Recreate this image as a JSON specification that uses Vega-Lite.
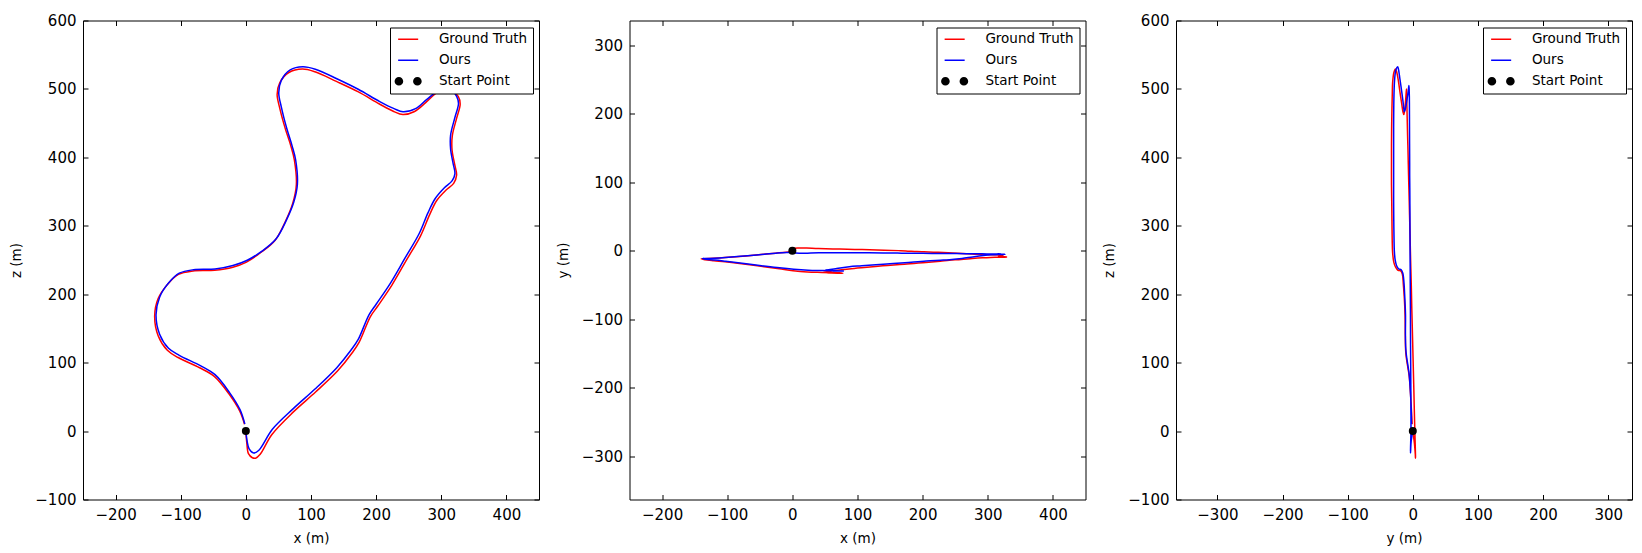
{
  "$schema": "https://vega.github.io/schema/vega-lite/v6.json",
  "padding": {"left": 9, "top": 12.5, "right": 8, "bottom": 4},
  "config": {
    "font": "DejaVu Sans",
    "view": {"stroke": "black", "strokeWidth": 1},
    "axis": {"labelFont": "DejaVu Sans", "labelFontSize": 15, "labelColor": "black", "titleFont": "DejaVu Sans", "titleFontSize": 13.5, "titleFontWeight": "normal", "titleColor": "black", "tickColor": "black", "tickWidth": 1, "domain": false, "grid": false, "labelFlush": false, "labelOverlap": false},
    "legend": {"labelFont": "DejaVu Sans", "labelFontSize": 13.5, "labelColor": "black", "title": null, "orient": "top-right", "offset": 6.5, "padding": 5, "rowPadding": 6, "symbolSize": 144, "symbolOffset": 6.4, "labelOffset": 24, "strokeColor": "black", "fillColor": "white", "cornerRadius": 0}
  },
  "data": {"values": [
    {"s":"Start Point","i":0,"x":0,"y":0,"z":0},
    {"s":"Ground Truth","i":1,"x":0,"y":0,"z":0},
    {"s":"Ground Truth","i":2,"x":1.5,"y":2.5,"z":-18},
    {"s":"Ground Truth","i":3,"x":4,"y":3.8,"z":-33},
    {"s":"Ground Truth","i":4,"x":10,"y":4.1,"z":-39},
    {"s":"Ground Truth","i":5,"x":15,"y":4.2,"z":-39.6},
    {"s":"Ground Truth","i":6,"x":22,"y":4.1,"z":-34},
    {"s":"Ground Truth","i":7,"x":40,"y":3.3,"z":-5},
    {"s":"Ground Truth","i":8,"x":73,"y":2.4,"z":28},
    {"s":"Ground Truth","i":9,"x":107,"y":1.7,"z":57},
    {"s":"Ground Truth","i":10,"x":141,"y":0.9,"z":88},
    {"s":"Ground Truth","i":11,"x":163,"y":0.2,"z":114},
    {"s":"Ground Truth","i":12,"x":174,"y":-0.2,"z":130},
    {"s":"Ground Truth","i":13,"x":191,"y":-1.2,"z":167},
    {"s":"Ground Truth","i":14,"x":202,"y":-1.6,"z":182},
    {"s":"Ground Truth","i":15,"x":224,"y":-2.3,"z":213},
    {"s":"Ground Truth","i":16,"x":246,"y":-3.3,"z":249},
    {"s":"Ground Truth","i":17,"x":268,"y":-4.2,"z":285},
    {"s":"Ground Truth","i":18,"x":282,"y":-5,"z":316},
    {"s":"Ground Truth","i":19,"x":293,"y":-5.5,"z":337},
    {"s":"Ground Truth","i":20,"x":307,"y":-5.9,"z":352},
    {"s":"Ground Truth","i":21,"x":319,"y":-6.2,"z":362},
    {"s":"Ground Truth","i":22,"x":323.5,"y":-6.5,"z":374},
    {"s":"Ground Truth","i":23,"x":320.5,"y":-6.9,"z":390},
    {"s":"Ground Truth","i":24,"x":316.5,"y":-7.4,"z":411},
    {"s":"Ground Truth","i":25,"x":317,"y":-8,"z":432},
    {"s":"Ground Truth","i":26,"x":323.5,"y":-8.6,"z":457},
    {"s":"Ground Truth","i":27,"x":329,"y":-9.1,"z":478},
    {"s":"Ground Truth","i":28,"x":326,"y":-9.4,"z":489},
    {"s":"Ground Truth","i":29,"x":316,"y":-9.6,"z":497},
    {"s":"Ground Truth","i":30,"x":304,"y":-9.7,"z":500},
    {"s":"Ground Truth","i":31,"x":292,"y":-10.2,"z":494},
    {"s":"Ground Truth","i":32,"x":276,"y":-11.3,"z":480},
    {"s":"Ground Truth","i":33,"x":259,"y":-12.8,"z":467},
    {"s":"Ground Truth","i":34,"x":241,"y":-13.8,"z":462.5},
    {"s":"Ground Truth","i":35,"x":227,"y":-15.2,"z":467},
    {"s":"Ground Truth","i":36,"x":205,"y":-17,"z":478},
    {"s":"Ground Truth","i":37,"x":172,"y":-19.8,"z":496},
    {"s":"Ground Truth","i":38,"x":139,"y":-22,"z":511},
    {"s":"Ground Truth","i":39,"x":106,"y":-24.8,"z":525},
    {"s":"Ground Truth","i":40,"x":87,"y":-26.6,"z":529},
    {"s":"Ground Truth","i":41,"x":66,"y":-29,"z":524},
    {"s":"Ground Truth","i":42,"x":52,"y":-31,"z":509},
    {"s":"Ground Truth","i":43,"x":48,"y":-31.5,"z":492},
    {"s":"Ground Truth","i":44,"x":52,"y":-32,"z":472},
    {"s":"Ground Truth","i":45,"x":60.5,"y":-32.5,"z":442},
    {"s":"Ground Truth","i":46,"x":69,"y":-32.7,"z":417},
    {"s":"Ground Truth","i":47,"x":74.5,"y":-32.7,"z":396},
    {"s":"Ground Truth","i":48,"x":77.5,"y":-32.7,"z":360},
    {"s":"Ground Truth","i":49,"x":72,"y":-32.3,"z":333},
    {"s":"Ground Truth","i":50,"x":61,"y":-32,"z":307},
    {"s":"Ground Truth","i":51,"x":45,"y":-31.6,"z":279},
    {"s":"Ground Truth","i":52,"x":23,"y":-31,"z":261},
    {"s":"Ground Truth","i":53,"x":1,"y":-29.2,"z":247},
    {"s":"Ground Truth","i":54,"x":-20,"y":-26.4,"z":239.5},
    {"s":"Ground Truth","i":55,"x":-48,"y":-22.7,"z":235},
    {"s":"Ground Truth","i":56,"x":-81,"y":-18.5,"z":234},
    {"s":"Ground Truth","i":57,"x":-103.5,"y":-16,"z":229},
    {"s":"Ground Truth","i":58,"x":-120.5,"y":-14.5,"z":214},
    {"s":"Ground Truth","i":59,"x":-134.5,"y":-13,"z":194},
    {"s":"Ground Truth","i":60,"x":-140,"y":-11.8,"z":168},
    {"s":"Ground Truth","i":61,"x":-134.5,"y":-11.5,"z":139},
    {"s":"Ground Truth","i":62,"x":-120.5,"y":-11,"z":118},
    {"s":"Ground Truth","i":63,"x":-104,"y":-10,"z":107.5},
    {"s":"Ground Truth","i":64,"x":-71,"y":-7.5,"z":92.5},
    {"s":"Ground Truth","i":65,"x":-48.5,"y":-5.5,"z":80},
    {"s":"Ground Truth","i":66,"x":-26,"y":-3.5,"z":54.5},
    {"s":"Ground Truth","i":67,"x":-9.5,"y":-2,"z":29.5},
    {"s":"Ground Truth","i":68,"x":-2,"y":-1,"z":10},
    {"s":"Ours","i":1,"x":0,"y":0,"z":0},
    {"s":"Ours","i":2,"x":2,"y":-2.5,"z":-15},
    {"s":"Ours","i":3,"x":5,"y":-3.2,"z":-26},
    {"s":"Ours","i":4,"x":12,"y":-3.5,"z":-32},
    {"s":"Ours","i":5,"x":20,"y":-3.5,"z":-28},
    {"s":"Ours","i":6,"x":40.7,"y":-2.8,"z":2.6},
    {"s":"Ours","i":7,"x":73.6,"y":-2.9,"z":33.5},
    {"s":"Ours","i":8,"x":106.6,"y":-3,"z":61.8},
    {"s":"Ours","i":9,"x":139.6,"y":-3.2,"z":92.7},
    {"s":"Ours","i":10,"x":161.5,"y":-3.4,"z":118.4},
    {"s":"Ours","i":11,"x":172.5,"y":-3.5,"z":133.9},
    {"s":"Ours","i":12,"x":189,"y":-3.6,"z":169.9},
    {"s":"Ours","i":13,"x":200,"y":-3.7,"z":185.4},
    {"s":"Ours","i":14,"x":222,"y":-3.9,"z":216.3},
    {"s":"Ours","i":15,"x":244,"y":-4.1,"z":252.3},
    {"s":"Ours","i":16,"x":265.9,"y":-4.3,"z":288.4},
    {"s":"Ours","i":17,"x":279.7,"y":-4.4,"z":319.3},
    {"s":"Ours","i":18,"x":290.7,"y":-4.5,"z":339.9},
    {"s":"Ours","i":19,"x":304.4,"y":-4.6,"z":355.3},
    {"s":"Ours","i":20,"x":316.5,"y":-4.7,"z":365.6},
    {"s":"Ours","i":21,"x":320.9,"y":-4.8,"z":375.9},
    {"s":"Ours","i":22,"x":318.1,"y":-4.8,"z":391.3},
    {"s":"Ours","i":23,"x":314.3,"y":-4.9,"z":411.9},
    {"s":"Ours","i":24,"x":314.3,"y":-5,"z":432.5},
    {"s":"Ours","i":25,"x":320.9,"y":-5.1,"z":458.3},
    {"s":"Ours","i":26,"x":326.4,"y":-5.2,"z":478.9},
    {"s":"Ours","i":27,"x":323.6,"y":-5.3,"z":489.2},
    {"s":"Ours","i":28,"x":315,"y":-5.6,"z":499},
    {"s":"Ours","i":29,"x":305,"y":-6,"z":505},
    {"s":"Ours","i":30,"x":293.4,"y":-7,"z":496.9},
    {"s":"Ours","i":31,"x":276.9,"y":-9,"z":484},
    {"s":"Ours","i":32,"x":260.4,"y":-11.3,"z":471.2},
    {"s":"Ours","i":33,"x":241.2,"y":-13,"z":466.5},
    {"s":"Ours","i":34,"x":227.5,"y":-13.8,"z":471.2},
    {"s":"Ours","i":35,"x":205.5,"y":-15,"z":481.5},
    {"s":"Ours","i":36,"x":172.5,"y":-17.5,"z":499.5},
    {"s":"Ours","i":37,"x":139.6,"y":-19.8,"z":514.9},
    {"s":"Ours","i":38,"x":106.6,"y":-22,"z":528.8},
    {"s":"Ours","i":39,"x":87.4,"y":-23.3,"z":532.4},
    {"s":"Ours","i":40,"x":68.1,"y":-26,"z":527.8},
    {"s":"Ours","i":41,"x":54.4,"y":-28,"z":512.4},
    {"s":"Ours","i":42,"x":50.5,"y":-28.8,"z":494.3},
    {"s":"Ours","i":43,"x":54.4,"y":-29.2,"z":473.7},
    {"s":"Ours","i":44,"x":62.6,"y":-29.4,"z":442.8},
    {"s":"Ours","i":45,"x":70.9,"y":-29.4,"z":417.1},
    {"s":"Ours","i":46,"x":76.4,"y":-29.4,"z":396.5},
    {"s":"Ours","i":47,"x":79.1,"y":-29.4,"z":360.5},
    {"s":"Ours","i":48,"x":73.6,"y":-29.4,"z":334.7},
    {"s":"Ours","i":49,"x":62.6,"y":-29.2,"z":309},
    {"s":"Ours","i":50,"x":46.2,"y":-28.8,"z":280.6},
    {"s":"Ours","i":51,"x":24.2,"y":-28.3,"z":262.6},
    {"s":"Ours","i":52,"x":2.2,"y":-27,"z":249.7},
    {"s":"Ours","i":53,"x":-19.8,"y":-25,"z":242},
    {"s":"Ours","i":54,"x":-47.3,"y":-21.8,"z":236.9},
    {"s":"Ours","i":55,"x":-80.2,"y":-17.8,"z":235.8},
    {"s":"Ours","i":56,"x":-102.2,"y":-15.3,"z":230.7},
    {"s":"Ours","i":57,"x":-118.7,"y":-13.5,"z":216.3},
    {"s":"Ours","i":58,"x":-132.4,"y":-12.3,"z":195.7},
    {"s":"Ours","i":59,"x":-137.9,"y":-11.2,"z":169.9},
    {"s":"Ours","i":60,"x":-132.4,"y":-11.3,"z":141.6},
    {"s":"Ours","i":61,"x":-118.7,"y":-10.8,"z":121},
    {"s":"Ours","i":62,"x":-102.2,"y":-9.8,"z":110.7},
    {"s":"Ours","i":63,"x":-69.2,"y":-7.4,"z":95.3},
    {"s":"Ours","i":64,"x":-47.3,"y":-5.5,"z":82.4},
    {"s":"Ours","i":65,"x":-25.3,"y":-3.6,"z":56.6},
    {"s":"Ours","i":66,"x":-8.8,"y":-2.4,"z":30.9},
    {"s":"Ours","i":67,"x":-1.6,"y":-2,"z":10.3}
  ]},
  "spacing": 90.5,
  "bounds": "flush",
  "resolve": {"scale": {"color": "independent"}, "legend": {"color": "independent"}},
  "hconcat": [
    {
      "width": 456, "height": 479,
      "resolve": {"axis": {"x": "independent", "y": "independent"}},
      "layer": [
        {
          "transform": [{"filter": "datum.s === 'Ground Truth'"}],
          "mark": {"type": "line", "strokeWidth": 1.5, "clip": true, "interpolate": "catmull-rom"},
          "encoding": {
            "x": {"field": "x", "type": "quantitative", "scale": {"domain": [-250, 450], "nice": false, "zero": false}, "axis": {"orient": "bottom", "values": [-200,-100,0,100,200,300,400], "ticks": false, "tickSize": 0, "labelPadding": 8, "title": "x (m)", "titlePadding": 9}},
            "y": {"field": "z", "type": "quantitative", "scale": {"domain": [-100, 600], "nice": false, "zero": false}, "axis": {"orient": "left", "values": [-100,0,100,200,300,400,500,600], "ticks": false, "tickSize": 0, "labelPadding": 7, "title": "z (m)", "titlePadding": 11}},
            "order": {"field": "i", "type": "quantitative"},
            "color": {"field": "s", "type": "nominal", "scale": {"domain": ["Ground Truth", "Ours", "Start Point"], "range": ["#ff0000", "#0000ff", "#000000"]}, "legend": {"encode": {"symbols": {"update": {"shape": {"signal": "datum.value === 'Start Point' ? 'M -2.26 0 A 0.72 0.72 0 1 0 -0.82 0 A 0.72 0.72 0 1 0 -2.26 0 Z M 0.82 0 A 0.72 0.72 0 1 0 2.26 0 A 0.72 0.72 0 1 0 0.82 0 Z' : 'M -1.67 0 L 1.67 0'"}, "fill": {"signal": "datum.value === 'Start Point' ? 'black' : 'transparent'"}, "stroke": {"signal": "datum.value === 'Ground Truth' ? '#ff0000' : datum.value === 'Ours' ? '#0000ff' : 'black'"}, "strokeWidth": {"signal": "datum.value === 'Start Point' ? 0 : 1.5"}, "opacity": {"value": 1}}}}}}
          }
        },
        {
          "transform": [{"filter": "datum.s === 'Ours'"}],
          "mark": {"type": "line", "strokeWidth": 1.5, "clip": true, "interpolate": "catmull-rom"},
          "encoding": {
            "x": {"field": "x", "type": "quantitative", "scale": {"domain": [-250, 450], "nice": false, "zero": false}, "axis": {"orient": "bottom", "values": [-200,-100,0,100,200,300,400], "offset": -5, "tickSize": 5, "labels": false, "title": null}},
            "y": {"field": "z", "type": "quantitative", "scale": {"domain": [-100, 600], "nice": false, "zero": false}, "axis": {"orient": "left", "values": [-100,0,100,200,300,400,500,600], "offset": -5, "tickSize": 5, "labels": false, "title": null}},
            "order": {"field": "i", "type": "quantitative"},
            "color": {"field": "s", "type": "nominal", "scale": {"domain": ["Ground Truth", "Ours", "Start Point"], "range": ["#ff0000", "#0000ff", "#000000"]}, "legend": null}
          }
        },
        {
          "transform": [{"filter": "datum.s === 'Start Point'"}],
          "mark": {"type": "point", "filled": true, "size": 64, "opacity": 1},
          "encoding": {
            "x": {"field": "x", "type": "quantitative", "scale": {"domain": [-250, 450], "nice": false, "zero": false}, "axis": {"orient": "top", "values": [-200,-100,0,100,200,300,400], "offset": -5, "tickSize": 5, "labels": false, "title": null}},
            "y": {"field": "z", "type": "quantitative", "scale": {"domain": [-100, 600], "nice": false, "zero": false}, "axis": {"orient": "right", "values": [-100,0,100,200,300,400,500,600], "offset": -5, "tickSize": 5, "labels": false, "title": null}},
            "color": {"field": "s", "type": "nominal", "scale": {"domain": ["Ground Truth", "Ours", "Start Point"], "range": ["#ff0000", "#0000ff", "#000000"]}, "legend": null}
          }
        }
      ]
    },
    {
      "width": 456, "height": 479,
      "resolve": {"axis": {"x": "independent", "y": "independent"}},
      "layer": [
        {
          "transform": [{"filter": "datum.s === 'Ground Truth'"}],
          "mark": {"type": "line", "strokeWidth": 1.5, "clip": true, "interpolate": "catmull-rom"},
          "encoding": {
            "x": {"field": "x", "type": "quantitative", "scale": {"domain": [-250, 450], "nice": false, "zero": false}, "axis": {"orient": "bottom", "values": [-200,-100,0,100,200,300,400], "ticks": false, "tickSize": 0, "labelPadding": 8, "title": "x (m)", "titlePadding": 9}},
            "y": {"field": "y", "type": "quantitative", "scale": {"domain": [-363.5, 336.5], "nice": false, "zero": false}, "axis": {"orient": "left", "values": [-300,-200,-100,0,100,200,300], "ticks": false, "tickSize": 0, "labelPadding": 7, "title": "y (m)", "titlePadding": 11}},
            "order": {"field": "i", "type": "quantitative"},
            "color": {"field": "s", "type": "nominal", "scale": {"domain": ["Ground Truth", "Ours", "Start Point"], "range": ["#ff0000", "#0000ff", "#000000"]}, "legend": {"encode": {"symbols": {"update": {"shape": {"signal": "datum.value === 'Start Point' ? 'M -2.26 0 A 0.72 0.72 0 1 0 -0.82 0 A 0.72 0.72 0 1 0 -2.26 0 Z M 0.82 0 A 0.72 0.72 0 1 0 2.26 0 A 0.72 0.72 0 1 0 0.82 0 Z' : 'M -1.67 0 L 1.67 0'"}, "fill": {"signal": "datum.value === 'Start Point' ? 'black' : 'transparent'"}, "stroke": {"signal": "datum.value === 'Ground Truth' ? '#ff0000' : datum.value === 'Ours' ? '#0000ff' : 'black'"}, "strokeWidth": {"signal": "datum.value === 'Start Point' ? 0 : 1.5"}, "opacity": {"value": 1}}}}}}
          }
        },
        {
          "transform": [{"filter": "datum.s === 'Ours'"}],
          "mark": {"type": "line", "strokeWidth": 1.5, "clip": true, "interpolate": "catmull-rom"},
          "encoding": {
            "x": {"field": "x", "type": "quantitative", "scale": {"domain": [-250, 450], "nice": false, "zero": false}, "axis": {"orient": "bottom", "values": [-200,-100,0,100,200,300,400], "offset": -5, "tickSize": 5, "labels": false, "title": null}},
            "y": {"field": "y", "type": "quantitative", "scale": {"domain": [-363.5, 336.5], "nice": false, "zero": false}, "axis": {"orient": "left", "values": [-300,-200,-100,0,100,200,300], "offset": -5, "tickSize": 5, "labels": false, "title": null}},
            "order": {"field": "i", "type": "quantitative"},
            "color": {"field": "s", "type": "nominal", "scale": {"domain": ["Ground Truth", "Ours", "Start Point"], "range": ["#ff0000", "#0000ff", "#000000"]}, "legend": null}
          }
        },
        {
          "transform": [{"filter": "datum.s === 'Start Point'"}],
          "mark": {"type": "point", "filled": true, "size": 64, "opacity": 1},
          "encoding": {
            "x": {"field": "x", "type": "quantitative", "scale": {"domain": [-250, 450], "nice": false, "zero": false}, "axis": {"orient": "top", "values": [-200,-100,0,100,200,300,400], "offset": -5, "tickSize": 5, "labels": false, "title": null}},
            "y": {"field": "y", "type": "quantitative", "scale": {"domain": [-363.5, 336.5], "nice": false, "zero": false}, "axis": {"orient": "right", "values": [-300,-200,-100,0,100,200,300], "offset": -5, "tickSize": 5, "labels": false, "title": null}},
            "color": {"field": "s", "type": "nominal", "scale": {"domain": ["Ground Truth", "Ours", "Start Point"], "range": ["#ff0000", "#0000ff", "#000000"]}, "legend": null}
          }
        }
      ]
    },
    {
      "width": 456, "height": 479,
      "resolve": {"axis": {"x": "independent", "y": "independent"}},
      "layer": [
        {
          "transform": [{"filter": "datum.s === 'Ground Truth'"}],
          "mark": {"type": "line", "strokeWidth": 1.5, "clip": true, "interpolate": "catmull-rom"},
          "encoding": {
            "x": {"field": "y", "type": "quantitative", "scale": {"domain": [-363.5, 336.5], "nice": false, "zero": false}, "axis": {"orient": "bottom", "values": [-300,-200,-100,0,100,200,300], "ticks": false, "tickSize": 0, "labelPadding": 8, "title": "y (m)", "titlePadding": 9}},
            "y": {"field": "z", "type": "quantitative", "scale": {"domain": [-100, 600], "nice": false, "zero": false}, "axis": {"orient": "left", "values": [-100,0,100,200,300,400,500,600], "ticks": false, "tickSize": 0, "labelPadding": 7, "title": "z (m)", "titlePadding": 11}},
            "order": {"field": "i", "type": "quantitative"},
            "color": {"field": "s", "type": "nominal", "scale": {"domain": ["Ground Truth", "Ours", "Start Point"], "range": ["#ff0000", "#0000ff", "#000000"]}, "legend": {"encode": {"symbols": {"update": {"shape": {"signal": "datum.value === 'Start Point' ? 'M -2.26 0 A 0.72 0.72 0 1 0 -0.82 0 A 0.72 0.72 0 1 0 -2.26 0 Z M 0.82 0 A 0.72 0.72 0 1 0 2.26 0 A 0.72 0.72 0 1 0 0.82 0 Z' : 'M -1.67 0 L 1.67 0'"}, "fill": {"signal": "datum.value === 'Start Point' ? 'black' : 'transparent'"}, "stroke": {"signal": "datum.value === 'Ground Truth' ? '#ff0000' : datum.value === 'Ours' ? '#0000ff' : 'black'"}, "strokeWidth": {"signal": "datum.value === 'Start Point' ? 0 : 1.5"}, "opacity": {"value": 1}}}}}}
          }
        },
        {
          "transform": [{"filter": "datum.s === 'Ours'"}],
          "mark": {"type": "line", "strokeWidth": 1.5, "clip": true, "interpolate": "catmull-rom"},
          "encoding": {
            "x": {"field": "y", "type": "quantitative", "scale": {"domain": [-363.5, 336.5], "nice": false, "zero": false}, "axis": {"orient": "bottom", "values": [-300,-200,-100,0,100,200,300], "offset": -5, "tickSize": 5, "labels": false, "title": null}},
            "y": {"field": "z", "type": "quantitative", "scale": {"domain": [-100, 600], "nice": false, "zero": false}, "axis": {"orient": "left", "values": [-100,0,100,200,300,400,500,600], "offset": -5, "tickSize": 5, "labels": false, "title": null}},
            "order": {"field": "i", "type": "quantitative"},
            "color": {"field": "s", "type": "nominal", "scale": {"domain": ["Ground Truth", "Ours", "Start Point"], "range": ["#ff0000", "#0000ff", "#000000"]}, "legend": null}
          }
        },
        {
          "transform": [{"filter": "datum.s === 'Start Point'"}],
          "mark": {"type": "point", "filled": true, "size": 64, "opacity": 1},
          "encoding": {
            "x": {"field": "y", "type": "quantitative", "scale": {"domain": [-363.5, 336.5], "nice": false, "zero": false}, "axis": {"orient": "top", "values": [-300,-200,-100,0,100,200,300], "offset": -5, "tickSize": 5, "labels": false, "title": null}},
            "y": {"field": "z", "type": "quantitative", "scale": {"domain": [-100, 600], "nice": false, "zero": false}, "axis": {"orient": "right", "values": [-100,0,100,200,300,400,500,600], "offset": -5, "tickSize": 5, "labels": false, "title": null}},
            "color": {"field": "s", "type": "nominal", "scale": {"domain": ["Ground Truth", "Ours", "Start Point"], "range": ["#ff0000", "#0000ff", "#000000"]}, "legend": null}
          }
        }
      ]
    }
  ]
}
